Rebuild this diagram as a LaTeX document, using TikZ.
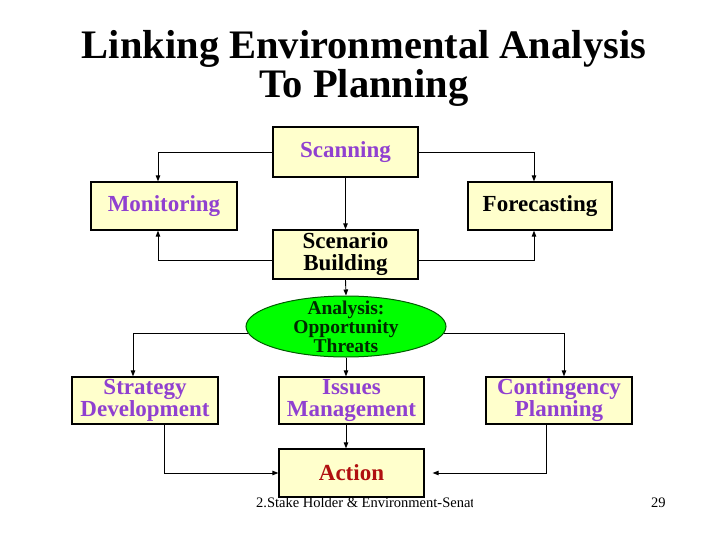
\documentclass[tikz,border=0pt]{standalone}
\usepackage{fontspec}
\setmainfont{Liberation Serif}
\usetikzlibrary{shapes.geometric,arrows.meta}
\definecolor{boxyellow}{RGB}{255,255,204}
\definecolor{labelpurple}{RGB}{144,64,208}
\definecolor{actionred}{RGB}{176,16,16}
\definecolor{ovalgreen}{RGB}{0,255,0}
\definecolor{ovalborder}{RGB}{0,90,0}
\definecolor{ovaltext}{RGB}{0,40,0}
\begin{document}
\begin{tikzpicture}[x=1pt,y=-1pt,
    box/.style={draw,line width=1.3pt,fill=boxyellow,inner sep=0pt,align=center,
        font=\fontsize{23}{22}\selectfont\bfseries},
    link/.style={line width=0.9pt,-{Triangle[length=6pt,width=4.5pt]}}]
    \useasboundingbox (0,0) rectangle (728,546);
    % title
    \node[anchor=base,align=center,inner sep=0pt,font=\fontsize{40.5}{35}\selectfont\bfseries] (title) at (364,97){Linking Environmental Analysis\\To Planning};
    % boxes
    \node[box,minimum width=145pt,minimum height=50pt,text=labelpurple] (scan) at (345.5,152){Scanning};
    \node[box,minimum width=146pt,minimum height=48pt,text=labelpurple] (mon) at (164,206){Monitoring};
    \node[box,minimum width=144pt,minimum height=48pt] (fore) at (540,206){Forecasting};
    \node[box,minimum width=145pt,minimum height=49pt] (scen) at (345.5,254.5){Scenario\\Building};
    \node[ellipse,draw=ovalborder,line width=1pt,fill=ovalgreen,minimum width=200pt,minimum height=61pt,inner sep=0pt] (ana) at (346,326.5){};
    \node[align=center,inner sep=0pt,text=ovaltext,font=\fontsize{19.5}{16.5}\selectfont\bfseries] (anatxt) at (346,327){Analysis:\\Opportunity\\Threats};
    \node[box,minimum width=146pt,minimum height=47pt,text=labelpurple] (strat) at (145,400.5){Strategy\\Development};
    \node[box,minimum width=145pt,minimum height=47pt,text=labelpurple] (issue) at (351.5,400.5){Issues\\Management};
    \node[box,minimum width=146pt,minimum height=47pt,text=labelpurple] (cont) at (559,400.5){Contingency\\Planning};
    \node[box,minimum width=145pt,minimum height=48pt,text=actionred] (act) at (351.5,473){Action};
    % connectors
    \draw[link] (scan.west) -| ([xshift=-6pt]mon.north);
    \draw[link] (scan.east) -| ([xshift=-6pt]fore.north);
    \draw[link] (scan.south) -- (scen.north);
    \draw[link] ([yshift=-5.5pt]scen.west) -| ([xshift=-6pt]mon.south);
    \draw[link] ([yshift=-5.5pt]scen.east) -| ([xshift=-6pt]fore.south);
    \draw[link] (scen.south) -- (ana.north);
    \draw[link] (ana.184) -| ([xshift=-12pt]strat.north);
    \draw[link] (ana.356) -| ([xshift=5pt]cont.north);
    \draw[link] (ana.south) -- (ana.south |- issue.north);
    \draw[link] (ana.south |- issue.south) -- (ana.south |- act.north);
    \draw[link] ([xshift=19pt]strat.south) |- (act.west);
    \draw[link,shorten >=8pt] ([xshift=-13pt]cont.south) |- (act.east);
    % footer
    \begin{scope}
    \clip (0,490) rectangle (472,520);
    \node[anchor=base west,inner sep=0pt,font=\fontsize{14.5}{16}\selectfont] (foot) at (256,507){2.Stake Holder \& Environment-Senate};
    \end{scope}
    \node[anchor=base west,inner sep=0pt,font=\fontsize{14.5}{16}\selectfont] (page) at (651,507){29};
\end{tikzpicture}
\end{document}
